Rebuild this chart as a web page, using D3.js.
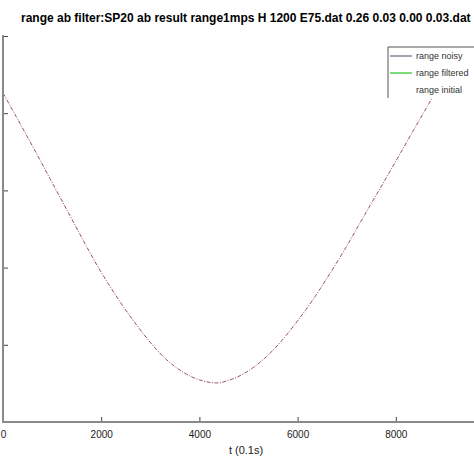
<!DOCTYPE html>
<html>
<head>
<meta charset="utf-8">
<script src="https://cdn.jsdelivr.net/npm/d3@7"></script>
<style>
  body { margin: 0; background: #fff; }
  svg { display: block; font-family: "Liberation Sans", Arial, sans-serif; }
</style>
</head>
<body>
<svg id="chart" width="474" height="474"></svg>
<script>
// data (t in 0.1s, range in arbitrary units)
let tValues = [0, 610, 1302, 1974, 2645, 3337, 4008, 4354, 4619, 5290, 5636, 5982, 6307, 6653, 6918, 7365, 7874, 8281, 8647, 9095];
let rangeValues = [2131, 1781, 1373, 984, 661, 402, 272, 253, 272, 402, 512, 648, 790, 959, 1095, 1341, 1619, 1846, 2047, 2293];
let xTicks = [0, 2000, 4000, 6000, 8000];
let yTicks = [0, 500, 1000, 1500, 2000, 2500];
let legendLabels = ["range noisy", "range filtered", "range initial"];
let legendColors = ["#6b7a8f", "#33cc33", "none"];

let title = "range ab filter:SP20 ab result range1mps H 1200 E75.dat 0.26 0.03 0.00 0.03.dat";

let padL = 3, padT = 36, padR = 494, padB = 422;

const svg = d3.select("#chart");

let xScale = d3.scaleLinear()
               .domain([0, 10000])
               .range([padL, padR]);

let yScale = d3.scaleLinear()
               .domain([0, 2500])
               .range([padB, padT]);

svg.append("defs").append("clipPath")
   .attr("id", "plotclip")
   .append("rect")
   .attr("x", padL).attr("y", padT)
   .attr("width", padR - padL).attr("height", padB - padT);

// title
svg.append("text")
   .attr("x", 21)
   .attr("y", 22)
   .style("font-weight", "bold")
   .style("font-size", "12px")
   .text(title);

// line
let line = d3.line()
             .x((d, i) => xScale(tValues[i]))
             .y(d => yScale(d))
             .curve(d3.curveMonotoneX);

svg.append("path")
   .datum(rangeValues)
   .attr("clip-path", "url(#plotclip)")
   .attr("d", line)
   .style("fill", "none")
   .style("stroke", "#9a5065")
   .style("stroke-width", "1px")
   .style("stroke-dasharray", "4,1.5,1,1.5");

// axes, ticks inward (y labels sit outside the picture, as in the original crop)
let xAxis = d3.axisBottom(xScale).tickValues(xTicks).tickSize(-5).tickPadding(9).tickFormat(d3.format("d"));
let yAxis = d3.axisLeft(yScale).tickValues(yTicks).tickSize(-5).tickFormat("");

let gx = svg.append("g")
   .attr("transform", `translate(0, ${padB})`)
   .call(xAxis);
gx.select(".domain").remove();
gx.selectAll("line").attr("stroke", "#444");
gx.selectAll("text").style("font-size", "10px").attr("fill", "#222");

let gy = svg.append("g")
   .attr("transform", `translate(${padL}, 0)`)
   .call(yAxis);
gy.select(".domain").remove();
gy.selectAll("line").attr("stroke", "#444");

svg.append("line")
   .attr("x1", padL).attr("x2", padL)
   .attr("y1", padT - 1).attr("y2", padB + 1)
   .style("stroke", "#8a8a8a").style("stroke-width", "2px");
svg.append("line")
   .attr("x1", padL).attr("x2", padR)
   .attr("y1", padB).attr("y2", padB)
   .style("stroke", "#8a8a8a").style("stroke-width", "2px");

// x label
svg.append("text")
   .attr("x", 246)
   .attr("y", 454)
   .attr("text-anchor", "middle")
   .style("font-size", "11px")
   .attr("fill", "#222")
   .text("t (0.1s)");

// legend
let lg = svg.append("g").attr("transform", "translate(388, 47)");
lg.append("rect")
  .attr("width", 100).attr("height", 51)
  .style("fill", "#fff");
lg.append("line").attr("x1", 0).attr("x2", 100).attr("y1", 0).attr("y2", 0)
  .style("stroke", "#555").style("stroke-width", "1px");
lg.append("line").attr("x1", 0).attr("x2", 0).attr("y1", 0).attr("y2", 51)
  .style("stroke", "#555").style("stroke-width", "1px");

legendLabels.forEach((lab, i) => {
  let cy = 9 + i * 17;
  if (legendColors[i] !== "none") {
    lg.append("line")
      .attr("x1", 2).attr("x2", 24)
      .attr("y1", cy).attr("y2", cy)
      .style("stroke", legendColors[i]).style("stroke-width", "1.3px");
  }
  lg.append("text")
    .attr("x", 28)
    .attr("y", cy + 3)
    .style("font-size", "9px")
    .attr("fill", "#333")
    .text(lab);
});
</script>
</body>
</html>
